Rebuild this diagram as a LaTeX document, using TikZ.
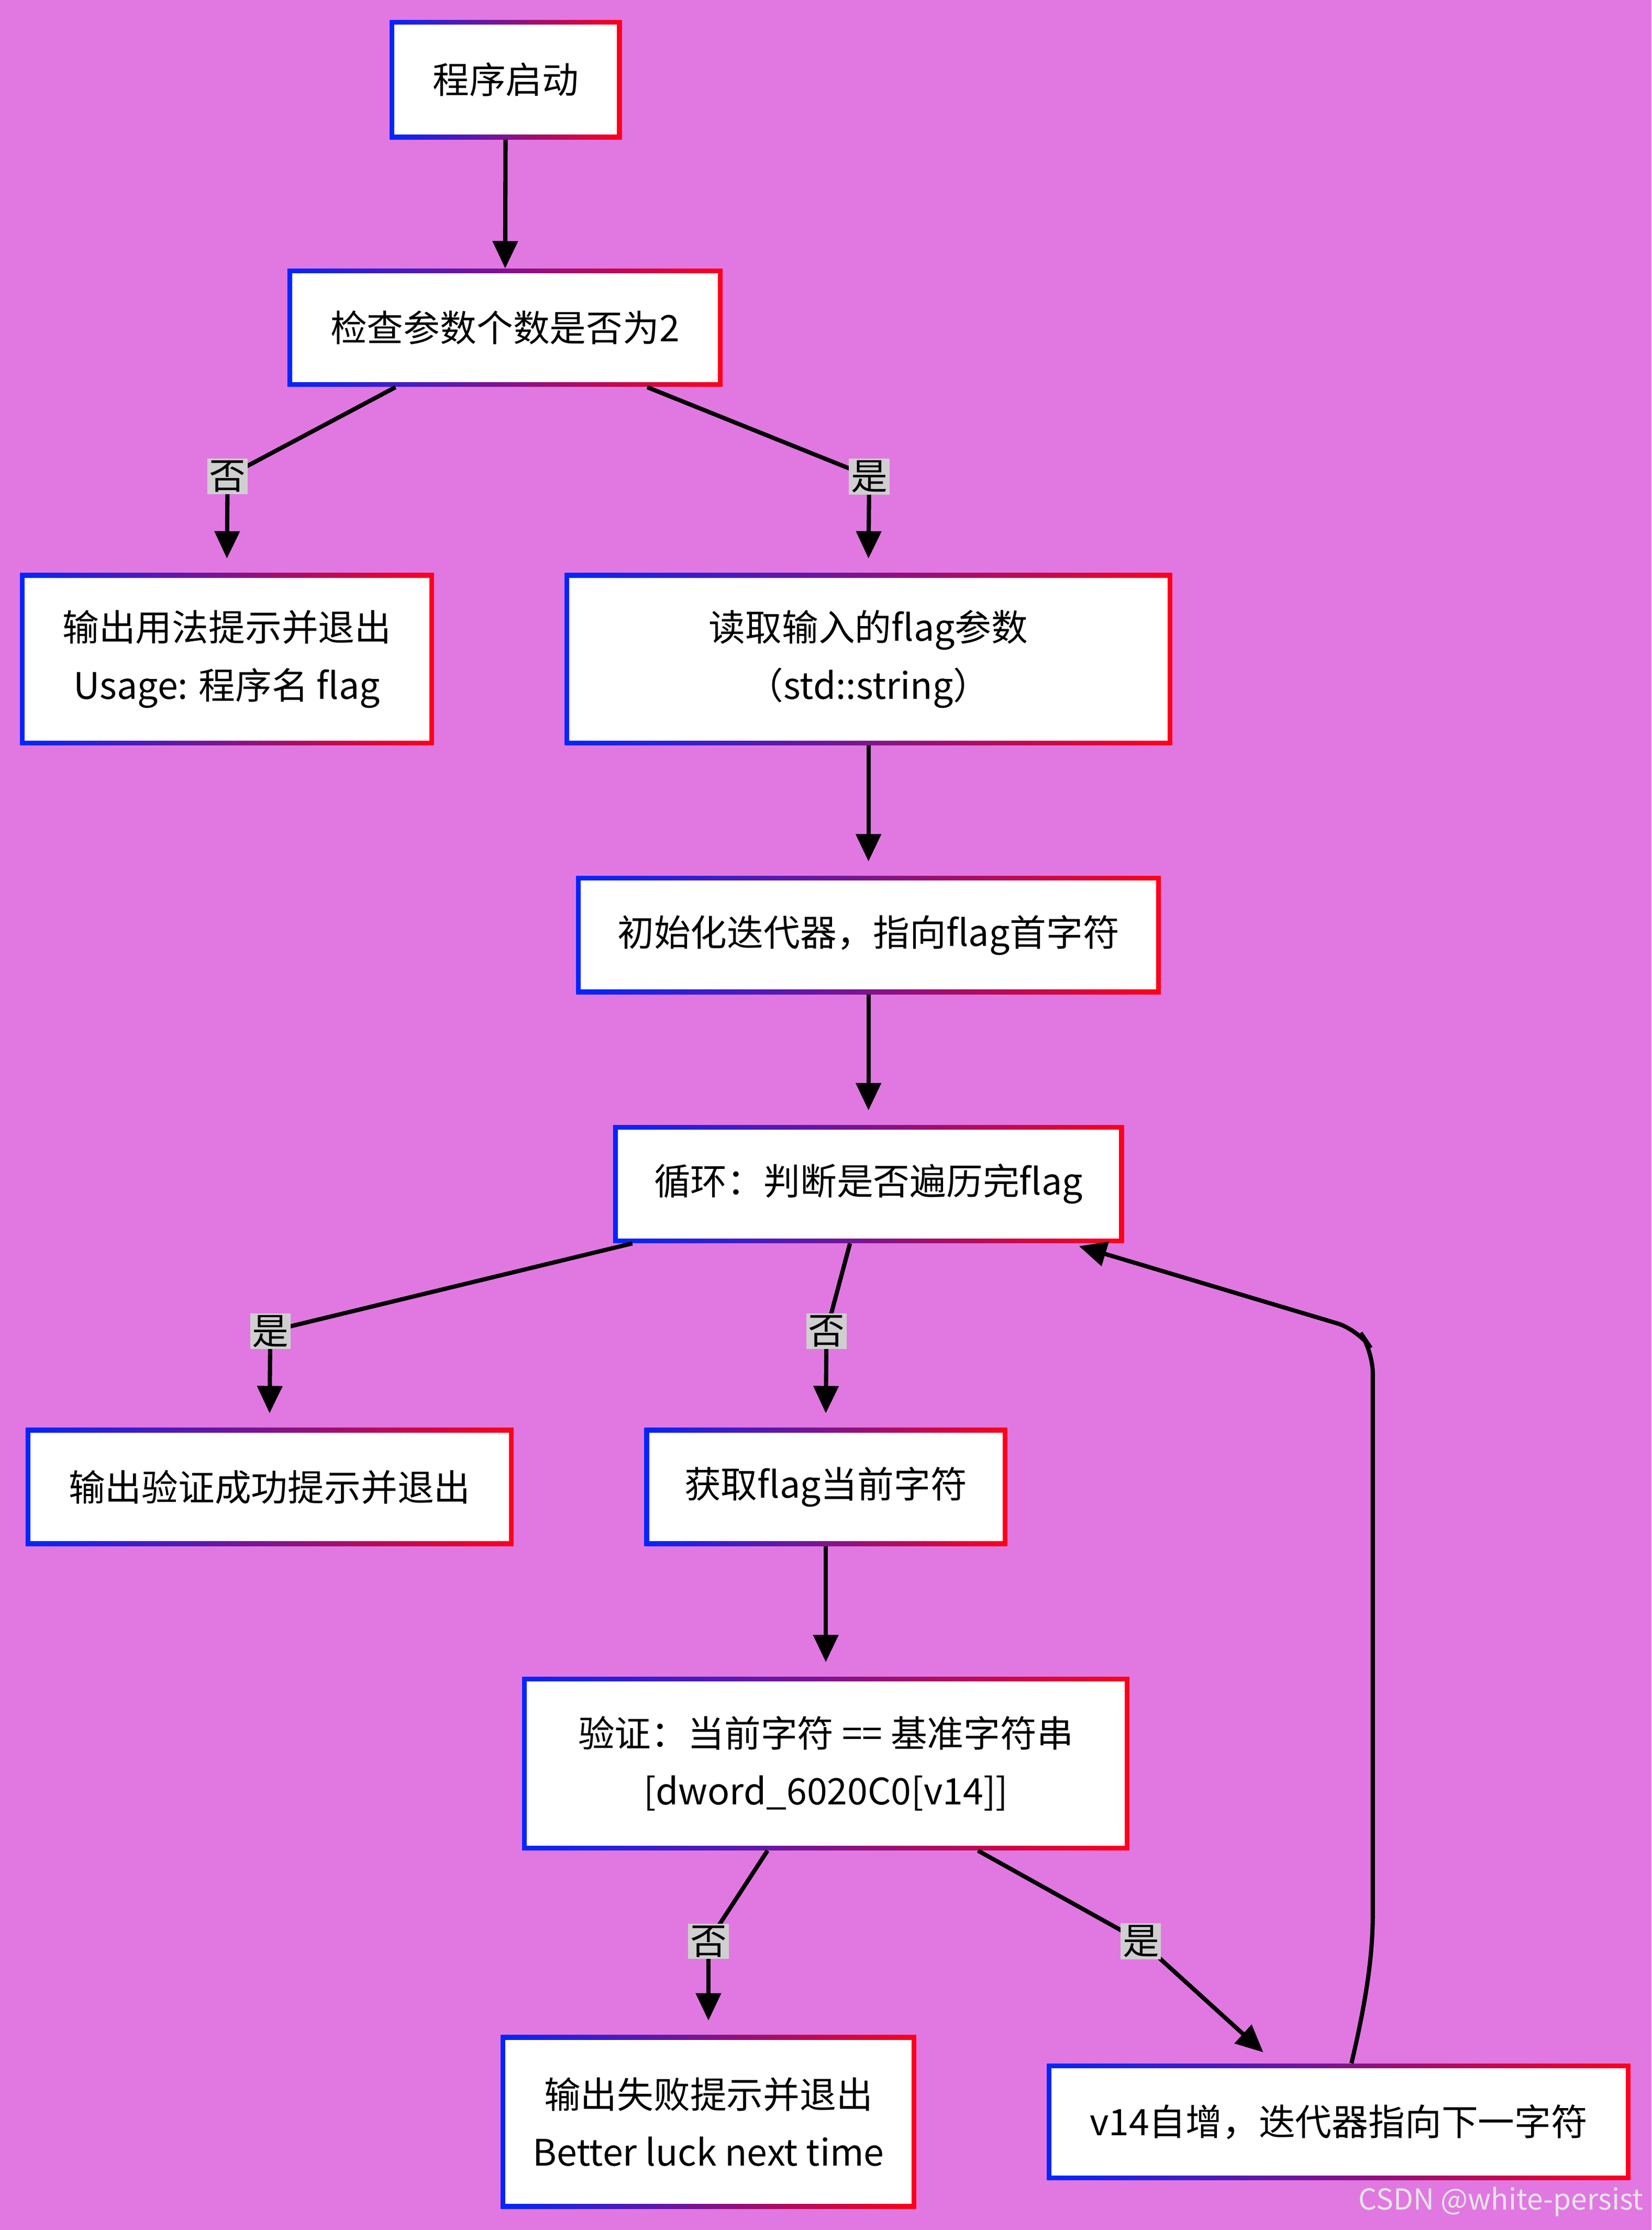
\documentclass[tikz,border=0pt]{standalone}
\usepackage{fontspec}
\setmainfont{Noto Sans CJK SC}
\usetikzlibrary{arrows.meta}
\definecolor{bg}{HTML}{E178E1}
\definecolor{lb}{HTML}{CFCFCF}
\begin{document}
\begin{tikzpicture}[x=0.026cm,y=-0.026cm,
  shadebox/.style={left color=blue!85!cyan, right color=red!90!magenta, draw=none, inner sep=0pt},
  inbox/.style={fill=white, draw=none, inner sep=0pt, align=center, font=\fontsize{19}{30}\selectfont},
  arr/.style={line width=2.2pt, -{Triangle[length=0.5cm,width=0.45cm]}},
  ln/.style={line width=2.2pt},
  lab/.style={fill=lb, inner sep=1pt, font=\fontsize{19}{22}\selectfont}]
\fill[bg] (0,0) rectangle (1161,1568);
\newcommand\mybox[6]{%
  \node[shadebox, minimum width=#4*0.026cm, minimum height=#5*0.026cm] (#1) at (#2,#3) {};
  \node[inbox, minimum width=#4*0.026cm-0.17cm, minimum height=#5*0.026cm-0.17cm] at (#2,#3) {#6};}
\mybox{n1}{355.5}{56}{163}{84}{程序启动}
\mybox{n2}{355}{230.5}{306}{83}{检查参数个数是否为2}
\mybox{n3}{159.5}{463.5}{291}{121}{输出用法提示并退出\\Usage: 程序名 flag}
\mybox{n4}{610.5}{463.5}{427}{121}{读取输入的flag参数\\（std::string）}
\mybox{n5}{610.5}{657.5}{411}{83}{初始化迭代器，指向flag首字符}
\mybox{n6}{610.5}{832.5}{359}{83}{循环：判断是否遍历完flag}
\mybox{n7}{189.5}{1045.5}{343}{83}{输出验证成功提示并退出}
\mybox{n8}{580.5}{1045.5}{255}{83}{获取flag当前字符}
\mybox{n9}{580.5}{1240}{427}{122}{验证：当前字符 == 基准字符串\\{}[dword\_6020C0[v14]]}
\mybox{n10}{498}{1492}{292}{122}{输出失败提示并退出\\Better luck next time}
\mybox{n11}{941}{1492}{410}{82}{v14自增，迭代器指向下一字符}

\coordinate (a1) at (160,335); \coordinate (a2) at (611,335);
\coordinate (b1) at (190,936); \coordinate (b2) at (581,936);
\coordinate (c1) at (498,1365); \coordinate (c2) at (802,1365);

\draw[arr] (n1) -- (n2);
\draw[ln] ([xshift=-77*0.026cm]n2.south) -- (a1);
\draw[arr] (a1) -- ([yshift=0.26cm]n3.north);
\node[lab] at (a1) {否};
\draw[ln] ([xshift=100*0.026cm]n2.south) -- (a2);
\draw[arr] (a2) -- ([yshift=0.26cm]n4.north);
\node[lab] at (a2) {是};
\draw[arr] (n4) -- ([yshift=0.26cm]n5.north);
\draw[arr] (n5) -- ([yshift=0.26cm]n6.north);
\draw[ln] ([xshift=-166*0.026cm]n6.south) -- (b1);
\draw[arr] (b1) -- ([yshift=0.26cm]n7.north);
\node[lab] at (b1) {是};
\draw[ln] ([xshift=-13*0.026cm]n6.south) -- (b2);
\draw[arr] (b2) -- ([yshift=0.26cm]n8.north);
\node[lab] at (b2) {否};
\draw[arr] (n8) -- ([yshift=0.26cm]n9.north);
\draw[ln] ([xshift=-41*0.026cm]n9.south) -- (c1);
\draw[arr] (c1) -- ([yshift=0.26cm]n10.north);
\node[lab] at (c1) {否};
\draw[ln] ([xshift=107*0.026cm]n9.south) -- (c2);
\draw[arr] (c2) -- ([xshift=-53*0.026cm,yshift=0.2cm]n11.north);
\node[lab] at (c2) {是};
\coordinate (d1) at (965,1330); \coordinate (d2) at (965,950);
\draw[arr, rounded corners=0.4cm] ([xshift=9*0.026cm]n11.north) .. controls (962,1400) and (965,1370) .. (d1) -- (d2) -- (955,935) -- ([xshift=148*0.026cm,yshift=-0.05cm]n6.south);
\node[text=white!80!gray, font=\fontsize{15}{18}\selectfont, anchor=east] at (1160,1548) {CSDN @white-persist};
\end{tikzpicture}
\end{document}
